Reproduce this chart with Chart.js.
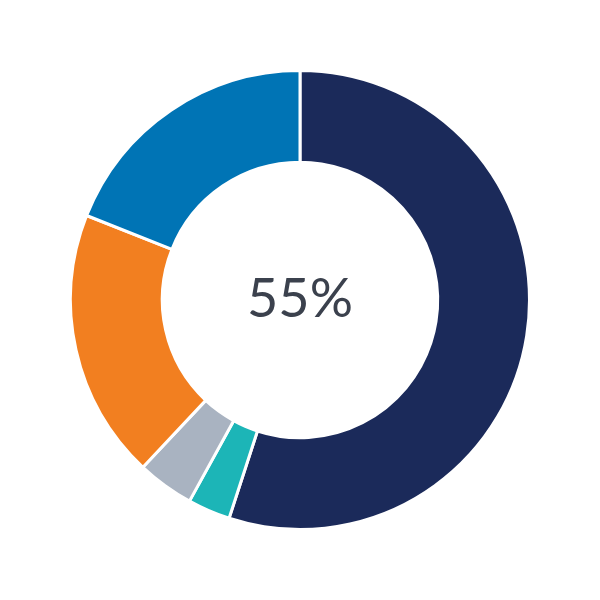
<!DOCTYPE html>
<html>
<head>
<meta charset="utf-8">
<script src="https://cdn.jsdelivr.net/npm/chart.js@4"></script>
<style>
  html, body { margin: 0; padding: 0; background: #fff; }
  #wrap { position: relative; width: 600px; height: 600px; }
  #centerLabel {
    position: absolute; left: 0; top: -4px; width: 600px; height: 600px;
    display: flex; align-items: center; justify-content: center;
    font-family: "Lato", sans-serif; font-size: 54px; color: #3b414d;
    pointer-events: none;
  }
</style>
</head>
<body>
<div id="wrap">
  <canvas id="donut" width="600" height="600"></canvas>
  <div id="centerLabel">55%</div>
</div>
<script>
const segmentNames = ["A", "B", "C", "D", "E"];
const segmentValues = [55, 3, 4, 19, 19];
const segmentColors = ["#1b2a5a", "#1cb5b7", "#a9b3c1", "#f27f20", "#0074b5"];

const ctx = document.getElementById("donut").getContext("2d");
new Chart(ctx, {
  type: "doughnut",
  data: {
    labels: segmentNames,
    datasets: [
      {
        data: segmentValues,
        backgroundColor: segmentColors,
        borderColor: "#ffffff",
        borderWidth: 3,
      },
    ],
  },
  options: {
    responsive: false,
    animation: false,
    cutout: "60%",
    layout: { padding: 69 },
    plugins: {
      legend: { display: false },
      tooltip: { enabled: false },
    },
  },
});
</script>
</body>
</html>
